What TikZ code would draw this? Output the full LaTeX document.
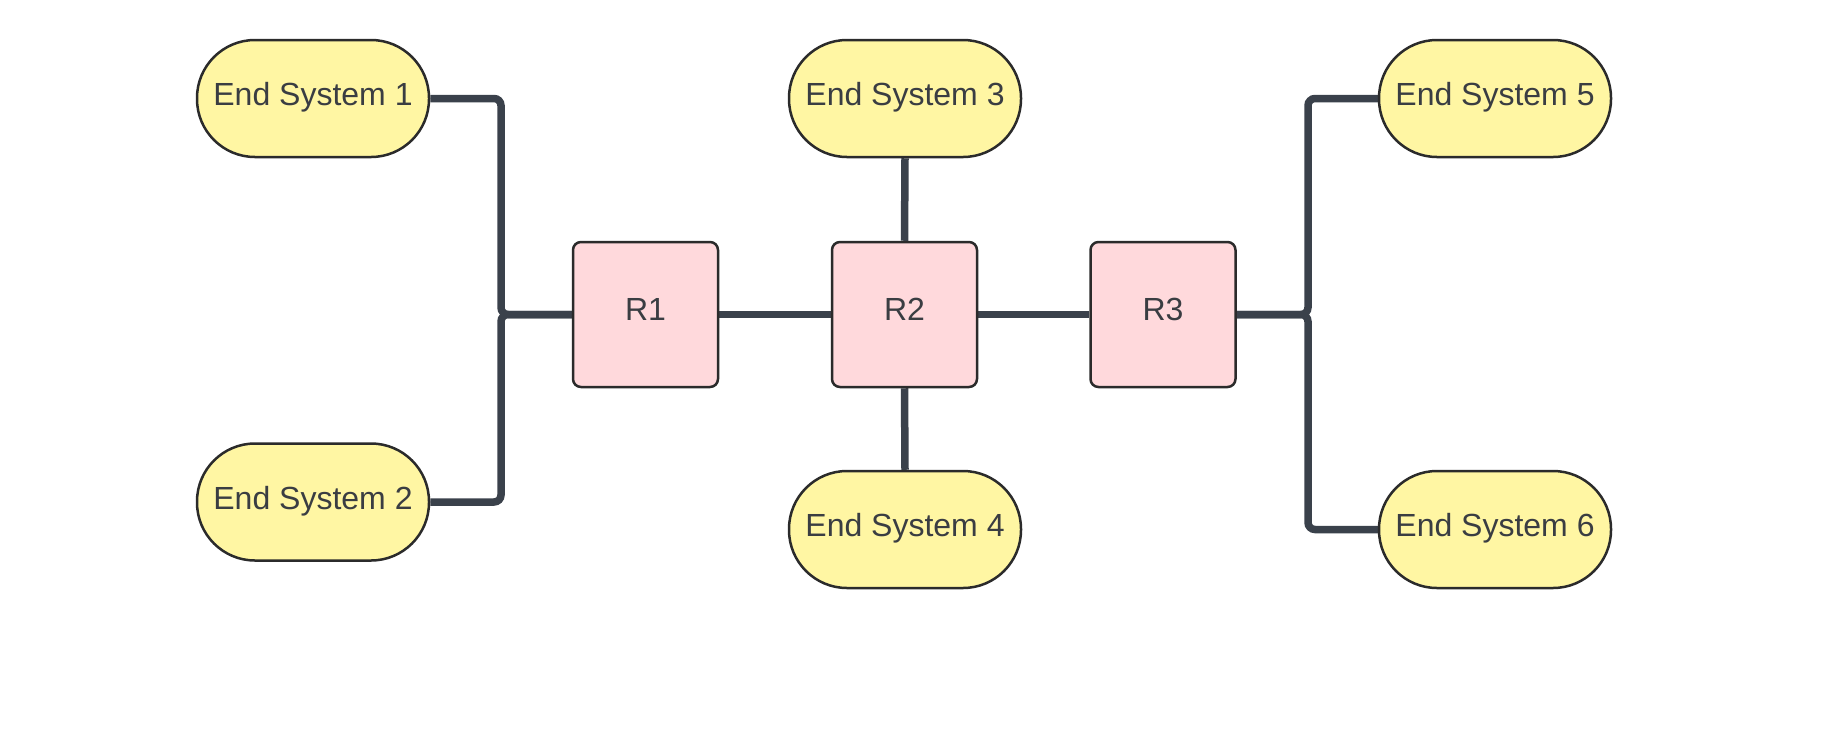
\documentclass[tikz,border=0pt]{standalone}
\usepackage{fontspec}
\setmainfont{Liberation Sans}
\usetikzlibrary{backgrounds}
\definecolor{linec}{HTML}{3A414B}
\definecolor{borderc}{HTML}{2B2B2B}
\definecolor{yellowc}{HTML}{FFF6A3}
\definecolor{pinkc}{HTML}{FFD9DC}
\definecolor{textc}{HTML}{3A3D42}
\begin{document}
\begin{tikzpicture}[x=1pt,y=-1pt,
  es/.style={draw=borderc, line width=2.5pt, fill=yellowc, rounded corners=58pt,
    minimum width=232pt, minimum height=117pt, inner sep=0pt,
    text height=23pt, text depth=9pt,
    font=\fontsize{32}{38}\selectfont, text=textc},
  rt/.style={draw=borderc, line width=2.5pt, fill=pinkc, rounded corners=8pt,
    minimum width=145pt, minimum height=145pt, inner sep=0pt,
    text height=20pt, text depth=9pt,
    font=\fontsize{32}{38}\selectfont, text=textc},
  link/.style={draw=linec, line width=7.5pt, rounded corners=7pt}]
\useasboundingbox (0,0) rectangle (1824,732);
\node[es] (es1) at (313,98.5) {End System 1};
\node[es] (es2) at (313,502) {End System 2};
\node[es] (es3) at (905,98.5) {End System 3};
\node[es] (es4) at (905,529.5) {End System 4};
\node[es] (es5) at (1495,98.5) {End System 5};
\node[es] (es6) at (1495,529.5) {End System 6};
\node[rt] (r1) at (645.5,314.5) {R1};
\node[rt] (r2) at (904.5,314.5) {R2};
\node[rt] (r3) at (1163,314.5) {R3};
\coordinate (jl) at (501,314.5);
\coordinate (jr) at (1308,314.5);
\begin{scope}[on background layer]
\draw[link] (es1.east) -| (jl) -- (r1.west);
\draw[link] (es2.east) -| (jl) -- (r1.west);
\draw[link] (es5.west) -| (jr) -- (r3.east);
\draw[link] (es6.west) -| (jr) -- (r3.east);
\draw[link] (r1.east) -- (r2.west);
\draw[link] (r2.east) -- (r3.west);
\draw[link] (es3.south) -- (r2.north);
\draw[link] (es4.north) -- (r2.south);
\end{scope}
\end{tikzpicture}
\end{document}
